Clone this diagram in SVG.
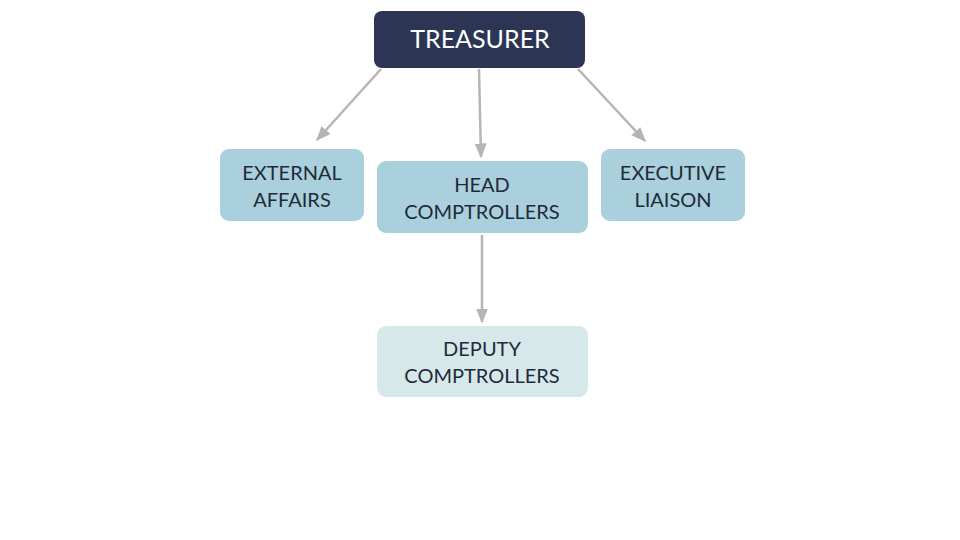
<svg xmlns="http://www.w3.org/2000/svg" width="960" height="540" viewBox="0 0 960 540">
<style>
text{font-family:Lato,"Open Sans",sans-serif;font-size:20px;fill:#1f2a3a;text-anchor:middle}
.c{stroke:#b5b5b5;stroke-width:2.5;fill:none;marker-end:url(#a)}
.mid{fill:#a9d0dc}
</style>
<defs><marker id="a" viewBox="0 0 10 10" refX="9" refY="5" markerWidth="6" markerHeight="6" orient="auto" markerUnits="strokeWidth"><path d="M0,1 L10,5 L0,9 z" fill="#b5b5b5"/></marker></defs>
<rect width="960" height="540" fill="#fff"/>
<g id="connectors">
<line class="c" x1="381" y1="69" x2="317" y2="140"/>
<line class="c" x1="479" y1="69" x2="481" y2="157"/>
<line class="c" x1="578" y1="69" x2="645" y2="141"/>
<line class="c" x1="482" y1="235" x2="482" y2="322"/>
</g>
<g id="treasurer"><rect x="374" y="11" width="211" height="57" rx="8" fill="#2c3654"/><text x="480" y="48" style="fill:#fff;font-size:25px">TREASURER</text></g>
<g id="external"><rect class="mid" x="220" y="149" width="144" height="72" rx="9"/><text x="292" y="180">EXTERNAL</text><text x="292" y="207">AFFAIRS</text></g>
<g id="head"><rect class="mid" x="377" y="161" width="211" height="72" rx="9"/><text x="482" y="192">HEAD</text><text x="482" y="219">COMPTROLLERS</text></g>
<g id="executive"><rect class="mid" x="601" y="149" width="144" height="72" rx="9"/><text x="673" y="180">EXECUTIVE</text><text x="673" y="207">LIAISON</text></g>
<g id="deputy"><rect x="377" y="326" width="211" height="71" rx="9" fill="#d6e8ea"/><text x="482" y="356">DEPUTY</text><text x="482" y="383">COMPTROLLERS</text></g>
</svg>
